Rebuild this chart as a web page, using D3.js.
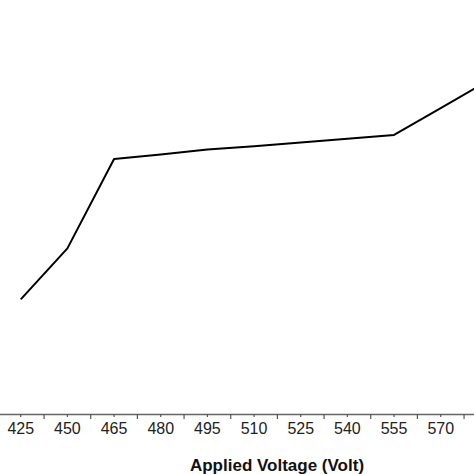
<!DOCTYPE html>
<html>
<head>
<meta charset="utf-8">
<script src="https://cdn.jsdelivr.net/npm/d3@7"></script>
<style>
  html, body { margin: 0; padding: 0; background: #fff; }
  svg { display: block; font-family: "Liberation Sans", Arial, sans-serif; }
</style>
</head>
<body>
<div id="chart"></div>
<script>
// Applied voltage categories (the chart is cropped at the right edge)
const voltages = ["425", "450", "465", "480", "495", "510", "525", "540", "555", "570", "585", "600"];
// Tick labels visible in the picture
const tickLabels = ["425", "450", "465", "480", "495", "510", "525", "540", "555", "570"];
// Response values (arbitrary units, y axis is not visible)
const seriesVoltages = ["425", "450", "465", "480", "495", "510", "525", "540", "555", "570", "585"];
const seriesValues = [27.7, 40.0, 61.6, 62.7, 63.9, 64.7, 65.6, 66.5, 67.4, 73.9, 80.4];

const width = 474, height = 474;
const axisY = 414;

const svg = d3.select("#chart")
  .append("svg")
    .attr("width", width)
    .attr("height", height);

// Band scale: one band per voltage, labels at band centres
const x = d3.scaleBand()
  .domain(voltages)
  .range([-2.6, 557.4])
  .paddingInner(0)
  .paddingOuter(0);

const y = d3.scaleLinear()
  .domain([0, 100])
  .range([axisY, 0]);

// X axis
const xAxis = svg.append("g")
  .attr("transform", `translate(0,${axisY})`)
  .call(d3.axisBottom(x).tickValues(tickLabels).tickSizeInner(3).tickSizeOuter(0).tickPadding(6));

xAxis.select(".domain")
  .attr("stroke", "#666")
  .attr("stroke-width", 1.5)
  .attr("d", `M0,0.5H${width}`);
xAxis.selectAll(".tick line").attr("stroke", "#555").attr("stroke-width", 1.2);
xAxis.selectAll(".tick text")
  .attr("fill", "#222")
  .attr("font-size", "16px");

// Longer ticks on the band boundaries
xAxis.selectAll(".bound")
  .data(voltages.slice(1))
  .join("line")
    .attr("class", "bound")
    .attr("x1", d => x(d))
    .attr("x2", d => x(d))
    .attr("y1", 0)
    .attr("y2", 5)
    .attr("stroke", "#555")
    .attr("stroke-width", 1.2);

// Axis title
svg.append("text")
  .attr("x", 277)
  .attr("y", 470.5)
  .attr("text-anchor", "middle")
  .attr("font-size", "17px")
  .attr("font-weight", "bold")
  .attr("fill", "#111")
  .text("Applied Voltage (Volt)");

// The line
const pts = seriesVoltages.map((v, i) => ({ v: v, val: seriesValues[i] }));
svg.append("path")
  .datum(pts)
  .attr("fill", "none")
  .attr("stroke", "#000")
  .attr("stroke-width", 2)
  .attr("stroke-linejoin", "round")
  .attr("d", d3.line()
    .x(d => x(d.v) + x.bandwidth() / 2)
    .y(d => y(d.val))
  );
</script>
</body>
</html>
